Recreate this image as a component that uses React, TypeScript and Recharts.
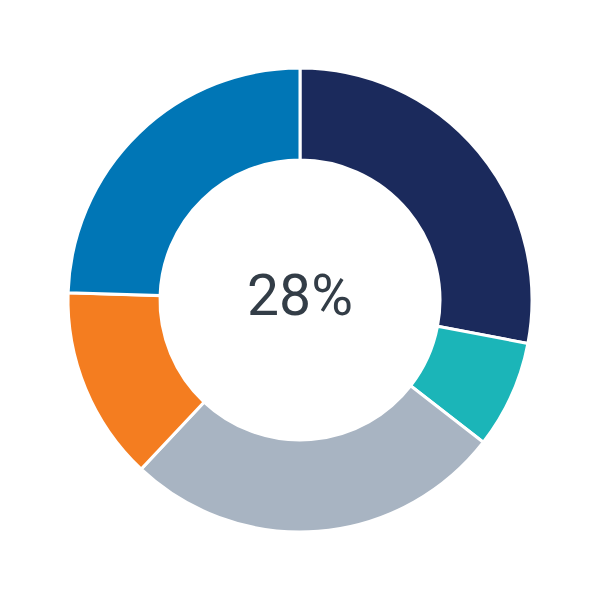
import { PieChart, Pie, Cell } from "recharts";

const segments = ["Navy", "Teal", "Gray", "Orange", "Blue"];
const shares = [28, 7.5, 26.5, 13.5, 24.5];
const colors = ["#1b2a5c", "#1bb5b8", "#a8b4c2", "#f47d20", "#0076b6"];
const centerLabel = "28%";

const data = segments.map((name, i) => ({ name, value: shares[i] }));

export default function App() {
  return (
    <div
      style={{
        position: "absolute",
        top: 0,
        left: 0,
        width: 600,
        height: 600,
        background: "#fff",
      }}
    >
      <PieChart
        width={600}
        height={600}
        margin={{ top: 0, right: 0, bottom: 0, left: 0 }}
      >
        <Pie
          data={data}
          dataKey="value"
          cx={300}
          cy={300}
          innerRadius={140}
          outerRadius={232}
          startAngle={90}
          endAngle={-270}
          stroke="#ffffff"
          strokeWidth={3}
          isAnimationActive={false}
        >
          {data.map((d, i) => (
            <Cell key={d.name} fill={colors[i]} />
          ))}
        </Pie>
        <text
          x={300}
          y={295}
          textAnchor="middle"
          dominantBaseline="central"
          fontFamily="Roboto, sans-serif"
          fontWeight={400}
          fontSize={57}
          fill="#333d47"
        >
          {centerLabel}
        </text>
      </PieChart>
    </div>
  );
}
